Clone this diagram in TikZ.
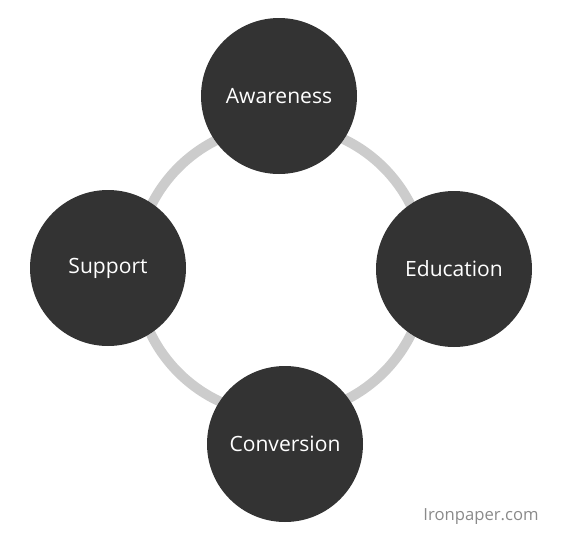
\documentclass[tikz,border=0pt]{standalone}
\usepackage{fontspec}
\setmainfont{Open Sans}
\usepackage{tikz}
\usetikzlibrary{positioning}

\definecolor{stagefill}{HTML}{333333}
\definecolor{ringgray}{HTML}{CCCCCC}
\definecolor{creditgray}{HTML}{8A8A8A}

\begin{document}
\begin{tikzpicture}[
    x=0.75pt, y=-0.75pt,
    stage/.style={circle, fill=stagefill, minimum size=117pt, inner sep=0pt,
                  text=white, font=\fontsize{15.8}{18}\selectfont},
    ring/.style={draw=ringgray, line width=7.5pt}
]
\useasboundingbox (0,0) rectangle (562,540);
\coordinate (hub) at (281,270);
\draw[ring] (hub) circle[radius=108.75pt];
\node[stage] (awareness) at (279,96) {Awareness};
\node[stage] (education) at (454,269) {Education};
\node[stage] (conversion) at (285,444) {Conversion};
\node[stage] (support) at (108,268) {Support\hspace{7pt}};
\node[text=creditgray, font=\fontsize{12.5}{15}\selectfont] (credit) at (481,517) {Ironpaper.com};
\end{tikzpicture}
\end{document}
